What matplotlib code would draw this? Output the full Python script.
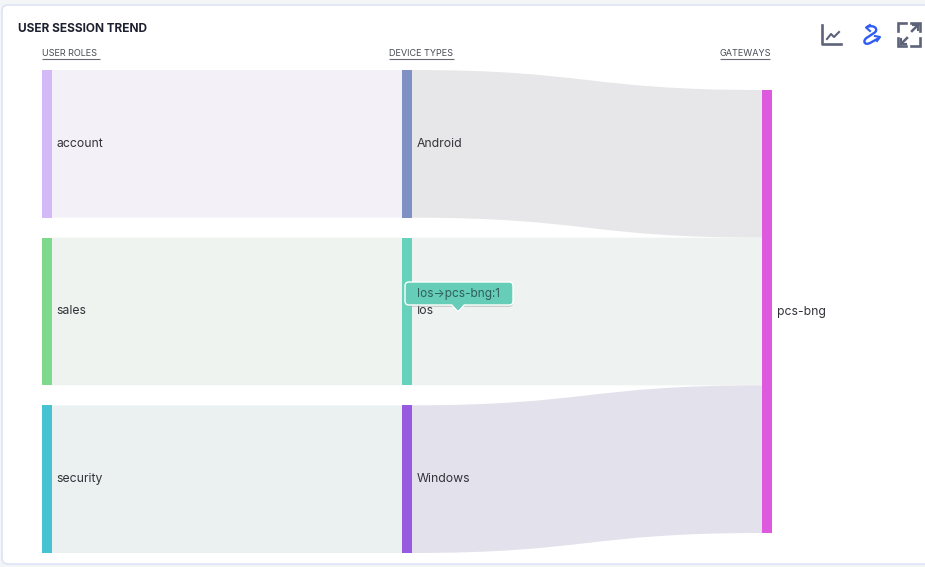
# plot.py
import matplotlib
matplotlib.use("Agg")
import matplotlib.pyplot as plt
from matplotlib.patches import FancyBboxPatch, PathPatch, Polygon, Rectangle
from matplotlib.path import Path

plt.rcParams['font.family'] = ['Inter', 'DejaVu Sans']

# sankey data
col_titles = ['USER ROLES', 'DEVICE TYPES', 'GATEWAYS']
roles = ['account', 'sales', 'security']
devices = ['Android', 'Ios', 'Windows']
gateways = ['pcs-bng']
links = [('account', 'Android', 1), ('sales', 'Ios', 1), ('security', 'Windows', 1),
         ('Android', 'pcs-bng', 1), ('Ios', 'pcs-bng', 1), ('Windows', 'pcs-bng', 1)]
node_colors = {'account': '#d3b9f6', 'sales': '#7dda8c', 'security': '#46c3d3',
               'Android': '#7f90c5', 'Ios': '#67d2bc', 'Windows': '#9659df',
               'pcs-bng': '#dd59de'}
link_colors = {'account': '#f3f1f7', 'sales': '#eff3ef', 'security': '#ebf1f1',
               'Android': '#e7e7e9', 'Ios': '#eef2f0', 'Windows': '#e3e1ec'}

W, H = 925, 567
top, bottom, gap = 70, 553, 20
node_w = 10
col_x = [42, 402, 762]
columns = [roles, devices, gateways]
unit = (bottom - top - 2 * gap) / 3

fig = plt.figure(figsize=(W / 100, H / 100), dpi=100, facecolor='#f4f5f7')
ax = fig.add_axes([0, 0, 1, 1])
ax.set_xlim(0, W)
ax.set_ylim(H, 0)
ax.axis('off')

# card
ax.add_patch(FancyBboxPatch((6, 9), W + 30, H - 16, boxstyle='round,pad=4,rounding_size=6',
                            fc='white', ec='#dde4f5', lw=1.2))

# node layout from the values
value = {}
for s, t, v in links:
    value.setdefault(s, [0, 0])[1] += v
    value.setdefault(t, [0, 0])[0] += v
nodes = {}
for x, names in zip(col_x, columns):
    heights = [max(value[n]) * unit for n in names]
    y = top + (bottom - top - sum(heights) - gap * (len(names) - 1)) / 2
    for n, h in zip(names, heights):
        nodes[n] = (x, y, h)
        y += h + gap

# links
out_off = {n: 0 for n in nodes}
in_off = {n: 0 for n in nodes}
for s, t, v in links:
    sx, sy, _ = nodes[s]
    tx, ty, _ = nodes[t]
    h = v * unit
    y0 = sy + out_off[s]
    y1 = ty + in_off[t]
    out_off[s] += h
    in_off[t] += h
    x0 = sx + node_w
    x1 = tx
    xm = (x0 + x1) / 2
    verts = [(x0, y0), (xm, y0), (xm, y1), (x1, y1), (x1, y1 + h),
             (xm, y1 + h), (xm, y0 + h), (x0, y0 + h), (x0, y0)]
    codes = [Path.MOVETO, Path.CURVE4, Path.CURVE4, Path.CURVE4, Path.LINETO,
             Path.CURVE4, Path.CURVE4, Path.CURVE4, Path.CLOSEPOLY]
    ax.add_patch(PathPatch(Path(verts, codes), fc=link_colors[s], ec='none', zorder=2))

# nodes and labels
for n, (x, y, h) in nodes.items():
    ax.add_patch(Rectangle((x, y), node_w, h, fc=node_colors[n], ec='none', zorder=3))
    ax.text(x + node_w + 4.6, y + h / 2, n, fontsize=8.8, color='#33333b', va='center', zorder=4)

# titles
ax.text(18, 28.5, 'USER SESSION TREND', fontsize=8.55, fontweight='bold', color='#1c2030', va='center')
for label, x0, x1 in zip(col_titles, [42, 389, 720], [100, 454, 770]):
    ax.text(x0, 53.5, label, fontsize=6.55, color='#4a4c55', va='center')
    ax.plot([x0, x1], [58.5, 58.5], color='#6a6c75', lw=0.8, solid_capstyle='butt')

# tooltip
ax.add_patch(FancyBboxPatch((408, 286), 104, 20, boxstyle='round,pad=1,rounding_size=4',
                            fc='#9aa0a0', ec='none', alpha=0.45, zorder=5))
ax.add_patch(FancyBboxPatch((406, 283), 106, 21, boxstyle='round,pad=1,rounding_size=4',
                            fc='#66cdb9', ec='white', lw=1, zorder=6))
ax.add_patch(Polygon([(452, 304), (458, 311), (464, 304)], fc='#66cdb9', ec='none', zorder=7))
ax.plot([452, 458, 464], [305.5, 311.5, 305.5], color='white', lw=0.8, zorder=7)
ax.text(417, 293.5, 'Ios\u2192pcs-bng:1', fontsize=8.5, color='#2f5f5a', va='center', zorder=8)

# toolbar icons
grey = '#5d6479'
blue = '#2f5cf5'
ax.plot([822, 822, 841], [25, 44, 44], color=grey, lw=1.9)
ax.plot([827, 831, 834, 839], [39, 34, 37, 32], color=grey, lw=1.5)
squiggle = Path([(867, 27), (875, 24), (879, 30), (874, 33), (868, 37), (862, 40), (864, 46),
                 (870, 43), (879, 38)],
                [Path.MOVETO, Path.CURVE4, Path.CURVE4, Path.CURVE4, Path.LINETO,
                 Path.CURVE4, Path.CURVE4, Path.CURVE4, Path.LINETO])
ax.add_patch(PathPatch(squiggle, fc='none', ec=blue, lw=1.7))
ax.plot([870, 866, 870], [25, 27.5, 31], color=blue, lw=1.5)
ax.plot([875, 880, 877], [36, 37, 41], color=blue, lw=1.5)
for c in ([(898, 31), (898, 23), (906, 23)], [(911, 23), (920, 23), (920, 31)],
          [(898, 38), (898, 46), (906, 46)], [(911, 46), (920, 46), (920, 38)]):
    ax.plot(*zip(*c), color=grey, lw=1.9, solid_joinstyle='miter')
ax.plot([912, 918], [31, 25], color=grey, lw=1.8)
ax.plot([913, 918, 918], [25, 25, 30], color=grey, lw=1.5)
ax.plot([901, 907], [44, 38], color=grey, lw=1.8)
ax.plot([901, 901, 906], [39, 44, 44], color=grey, lw=1.5)

fig.savefig('out.png', dpi=100)
